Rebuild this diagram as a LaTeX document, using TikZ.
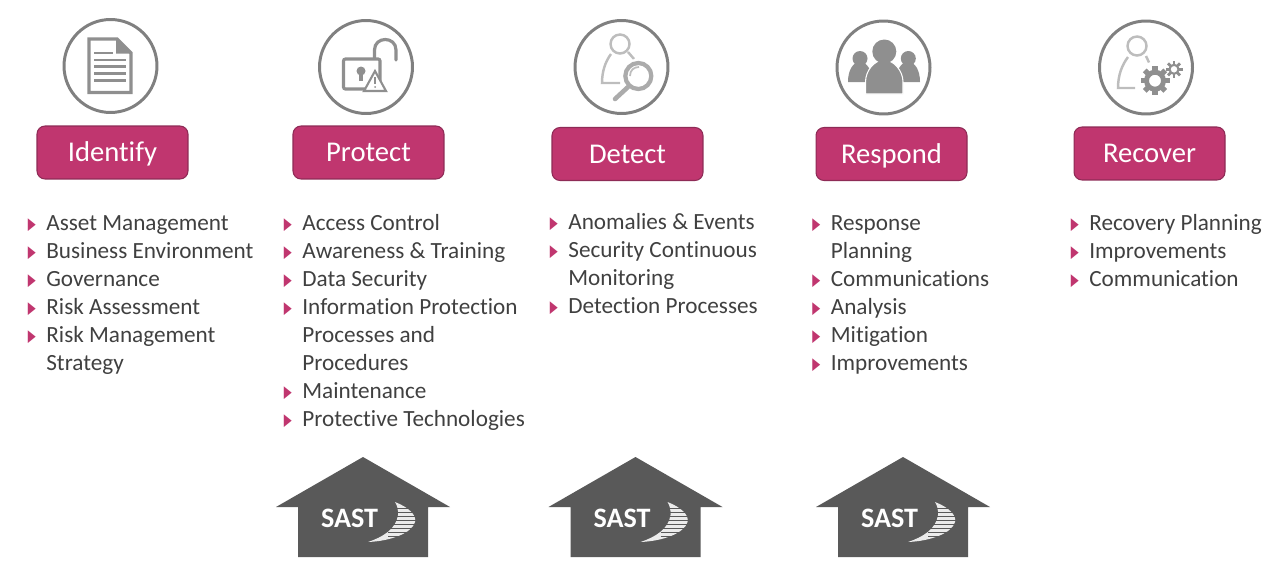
\documentclass[tikz,border=0pt]{standalone}
\usepackage{graphicx}
\usepackage{fontspec}
\setmainfont{Carlito}[Ligatures=NoCommon]
\newfontfamily\symfont{DejaVu Sans}
\usetikzlibrary{positioning}
\definecolor{berry}{HTML}{C0366F}
\definecolor{berryline}{HTML}{8E2B56}
\definecolor{ringgray}{HTML}{808080}
\definecolor{icongray}{HTML}{8F8F8F}
\definecolor{palegray}{HTML}{BDBDBD}
\definecolor{lensgray}{HTML}{ABABAB}
\definecolor{housegray}{HTML}{595959}
\definecolor{listgray}{HTML}{404040}
\newcommand{\bul}{\makebox[0.36cm][l]{\rule{0pt}{10pt}\hspace*{-0.3pt}\raisebox{0.2pt}{\scalebox{0.62}[1]{\fontsize{9.5pt}{9.5pt}\symfont\textcolor{berry}{▶}}}}}
\newcommand{\ind}{\hspace*{0.36cm}}
\tikzset{
  ring/.style={circle, draw=ringgray, line width=1.7pt, minimum size=1.86cm, inner sep=0pt},
  badge/.style={draw=berryline, fill=berry, rounded corners=0.16cm, line width=0.6pt,
    minimum width=3.02cm, minimum height=1.06cm, text=white, text height=11pt, text depth=0.2pt,
    font=\fontsize{16.3pt}{18pt}\selectfont},
  items/.style={anchor=north west, inner sep=0pt, align=left, text=listgray,
    font=\fontsize{13.2pt}{15.93pt}\selectfont},
  iconline/.style={draw=icongray, line width=1.6pt},
  paleline/.style={draw=palegray, line width=1.4pt},
  sasthouse/.pic={
    \fill[housegray] (0,0) -- (87,50) -- (65,50) -- (65,100) -- (-65,100) -- (-65,50) -- (-87,50) -- cycle;
    \node[text=white, font=\bfseries\fontsize{16pt}{18pt}\selectfont] (-label) at (-13.5,61) {SAST};
    \fill[white!92!black] (32,45) .. controls (45,50) and (54,58) .. (52,65)
      .. controls (49,76) and (28,84) .. (5,85)
      .. controls (20,80) and (33,72) .. (35,58) .. controls (35.5,53) and (34,48) .. cycle;
    \foreach \y in {51,55,...,79}
      \draw[housegray, line width=0.2pt] (25,\y) -- (55,\y);
  }
}
\begin{document}
\begin{tikzpicture}[x=0.02cm, y=-0.02cm]
  \useasboundingbox (0,0) rectangle (1287,575);

  % rings
  \node[ring] (identify_ring) at (110.5,66) {};
  \node[ring] (protect_ring)  at (366,67) {};
  \node[ring] (detect_ring)   at (621.5,67) {};
  \node[ring] (respond_ring)  at (883.5,67.5) {};
  \node[ring] (recover_ring)  at (1146,67.5) {};

  % headers
  \node[badge] (identify) at (112.5,152.5) {Identify};
  \node[badge] (protect)  at (368.5,152.5) {Protect};
  \node[badge] (detect)   at (627.5,154) {Detect};
  \node[badge] (respond)  at (891.5,154) {Respond};
  \node[badge] (recover)  at (1149.5,153.5) {Recover};

  % document
  \draw[iconline, line width=1.9pt] (89,39) -- (117,39) -- (131,53) -- (131,92.5) -- (89,92.5) -- cycle;
  \fill[icongray] (116,38) -- (132,53.5) -- (116,53.5) -- cycle;
  \draw[iconline] (94,53) -- (113,53);
  \foreach \y in {60,66.7,73.3,80.7}
    \draw[iconline] (94,\y) -- (126,\y);

  % padlock
  \draw[iconline, line width=1.8pt, rounded corners=0.04cm] (343.5,59) rectangle (380,89);
  \draw[iconline, line width=1.8pt, line cap=round] (374.5,58) -- (374.5,50)
    .. controls (374.5,36) and (396,36) .. (396,50) -- (396,60);
  \fill[icongray] (361,71) circle (4.5);
  \fill[icongray] (359,73) rectangle (363,81);
  \draw[iconline, fill=white, line width=1.2pt] (375,71) -- (386,91) -- (364,91) -- cycle;
  \draw[icongray, line width=0.8pt] (375,77) -- (375,84);
  \fill[icongray] (375,87) circle (1);

  % person with lens
  \draw[paleline] (620,44) circle (9.5);
  \draw[paleline] (611,54) .. controls (605,62) and (602,72) .. (602,83) -- (620,83);
  \draw[paleline] (628,52) -- (634,59);
  \draw[draw=white, line width=3pt, fill=white] (638.3,76) circle (14.5);
  \draw[lensgray, line width=2.4pt] (638.3,76) circle (13);
  \draw[palegray, line width=1pt] (630,76) .. controls (630,70) and (634,67) .. (639,67);
  \draw[lensgray, line width=2.6pt, line cap=round] (628,87) -- (615,99);

  % team
  \foreach \x/\y in {860/58.5,908.3/58.5}
    \fill[icongray] (\x,\y) circle (7.5);
  \fill[icongray] (848,82) .. controls (848,70) and (853,62) .. (860,62)
    .. controls (867,62) and (872,70) .. (872,82) -- cycle;
  \fill[icongray] (896,82) .. controls (896,70) and (901,62) .. (908,62)
    .. controls (915,62) and (920,70) .. (920,82) -- cycle;
  \draw[white, line width=0.6pt, fill=icongray] (865.5,94) -- (865.5,82)
    .. controls (865.5,71) and (874,60) .. (884,60)
    .. controls (894,60) and (903,71) .. (903,82) -- (903,94) -- cycle;
  \fill[icongray] (884.3,51.5) circle (12);

  % person with gears
  \draw[paleline] (1137,46) circle (9.5);
  \draw[paleline] (1128,57) .. controls (1122,65) and (1118,75) .. (1118,88) -- (1135,88);
  \draw[paleline] (1146,56) -- (1149,62.5);
  \draw[icongray, line width=2.8pt] (1155,80.7) circle (8.5);
  \foreach \a in {0,45,...,315}
    \draw[icongray, line width=3pt] (1155,80.7) ++(\a:9) -- ++(\a:5.5);
  \draw[icongray, line width=1.2pt] (1174,69.3) circle (4.5);
  \foreach \a in {0,45,...,315}
    \draw[icongray, line width=1.6pt] (1174,69.3) ++(\a:5) -- ++(\a:3.5);

  % lists
  \node[items] (identify_list) at (28,212.4) {\bul Asset Management\\ \bul Business Environment\\ \bul Governance\\
    \bul Risk Assessment\\ \bul Risk Management\\ \ind Strategy};
  \node[items] (protect_list) at (284,212.4) {\bul Access Control\\ \bul Awareness \& Training\\ \bul Data Security\\
    \bul Information Protection\\ \ind Processes and\\ \ind Procedures\\ \bul Maintenance\\ \bul Protective Technologies};
  \node[items] (detect_list) at (550,211.4) {\bul Anomalies \& Events\\ \bul Security Continuous\\ \ind Monitoring\\
    \bul Detection Processes};
  \node[items] (respond_list) at (812.5,212.4) {\bul Response\\ \ind Planning\\ \bul Communications\\ \bul Analysis\\
    \bul Mitigation\\ \bul Improvements};
  \node[items] (recover_list) at (1071,212.4) {\bul Recovery Planning\\ \bul Improvements\\ \bul Communication};

  % houses
  \pic (house_one)   at (363,457) {sasthouse};
  \pic (house_two)   at (635.5,457) {sasthouse};
  \pic (house_three) at (903,457) {sasthouse};
\end{tikzpicture}
\end{document}
